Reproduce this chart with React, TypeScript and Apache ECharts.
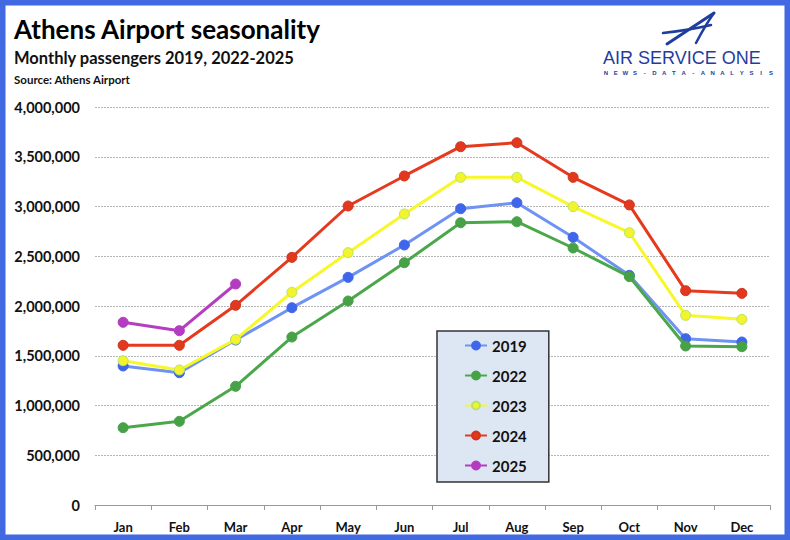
import React, { useEffect, useRef } from "react";
import * as echarts from "echarts";

const months = ["Jan", "Feb", "Mar", "Apr", "May", "Jun", "Jul", "Aug", "Sep", "Oct", "Nov", "Dec"];
const years = ["2019", "2022", "2023", "2024", "2025"];
const pax2019 = [1397000, 1330000, 1658000, 1983000, 2288000, 2613000, 2978000, 3038000, 2690000, 2308000, 1672000, 1638000];
const pax2022 = [777000, 841000, 1193000, 1688000, 2050000, 2435000, 2837000, 2847000, 2583000, 2295000, 1598000, 1591000];
const pax2023 = [1450000, 1357000, 1665000, 2138000, 2536000, 2925000, 3293000, 3293000, 2998000, 2737000, 1906000, 1866000];
const pax2024 = [1605000, 1605000, 2007000, 2489000, 3005000, 3307000, 3601000, 3641000, 3293000, 3016000, 2154000, 2127000];
const pax2025 = [1836000, 1752000, 2221000];
const yTicks = { min: 0, max: 4000000, interval: 500000 };

const FONT = "Lato, 'Noto Sans', sans-serif";
const tagline = ["N", "E", "W", "S", "-", "D", "A", "T", "A", "-", "A", "N", "A", "L", "Y", "S", "I", "S"];

export default function App() {
  const ref = useRef<HTMLDivElement>(null);
  useEffect(() => {
    if (!ref.current) return;
    const chart = echarts.init(ref.current, null, { renderer: "svg" });
    const styles = [
      { line: "#6f93f2", dot: "#3f66ea", border: "#3f66ea" },
      { line: "#4aa84a", dot: "#47a147", border: "#47a147" },
      { line: "#f7f72a", dot: "#f4f42c", border: "#b5e46c" },
      { line: "#e63a1e", dot: "#e2381d", border: "#d0341c" },
      { line: "#b43ec1", dot: "#b33cc0", border: "#b33cc0" },
    ];
    const dataSets = [pax2019, pax2022, pax2023, pax2024, pax2025];
    const logoColor = "#1f3d9e";
    const taglineEls = tagline.map((g, i) => ({
      type: "text",
      x: 606 + i * 9.7,
      y: 73,
      style: { text: g, fill: logoColor, font: "bold 6px 'Liberation Sans', sans-serif", textAlign: "center", textVerticalAlign: "middle" },
    }));
    chart.setOption({
      animation: false,
      backgroundColor: "#ffffff",
      grid: { left: 95, right: 20, top: 107, bottom: 35, containLabel: false },
      legend: {
        data: years,
        orient: "vertical",
        left: 437,
        top: 331,
        padding: [7, 22, 9, 27],
        itemWidth: 22,
        itemHeight: 10,
        itemGap: 15,
        backgroundColor: "#dde7f3",
        borderColor: "#333333",
        borderWidth: 1.5,
        borderRadius: 0,
        textStyle: { fontFamily: FONT, fontWeight: "bold", fontSize: 15, color: "#111" },
      },
      xAxis: {
        type: "category",
        data: months,
        boundaryGap: true,
        axisLine: { lineStyle: { color: "#9a9a9a", width: 1 } },
        axisTick: { show: true, length: 5, lineStyle: { color: "#9a9a9a" } },
        axisLabel: { fontFamily: FONT, fontWeight: "bold", fontSize: 13, color: "#111", margin: 15 },
      },
      yAxis: {
        type: "value",
        min: yTicks.min,
        max: yTicks.max,
        interval: yTicks.interval,
        axisLine: { show: false },
        axisTick: { show: false },
        splitLine: { lineStyle: { color: "#b5b5b5", type: [2, 1], width: 1 } },
        axisLabel: {
          fontFamily: FONT,
          fontWeight: "bold",
          fontSize: 14.5,
          color: "#111",
          margin: 15,
          formatter: (v: number) => v.toLocaleString("en-US"),
        },
      },
      series: years.map((y, i) => ({
        name: y,
        type: "line",
        data: dataSets[i],
        symbol: "circle",
        symbolSize: 10,
        lineStyle: { color: styles[i].line, width: 3 },
        itemStyle: { color: styles[i].dot, borderColor: styles[i].border, borderWidth: 1 },
        emphasis: { disabled: true },
        z: 2 + i,
      })),
      graphic: [
        {
          type: "rect",
          shape: { x: 0, y: 0, width: 790, height: 540 },
          style: { fill: "none", stroke: "#4169e1", lineWidth: 11 },
          z: 100,
          silent: true,
        },
        {
          type: "text",
          left: 14,
          top: 16,
          style: { text: "Athens Airport seasonality", fill: "#000", font: `bold 26px ${FONT}` },
        },
        {
          type: "text",
          left: 14,
          top: 49,
          style: { text: "Monthly passengers 2019, 2022-2025", fill: "#111", font: `bold 16.5px ${FONT}` },
        },
        {
          type: "text",
          left: 14,
          top: 73,
          style: { text: "Source: Athens Airport", fill: "#111", font: `bold 11.5px ${FONT}` },
        },
        {
          type: "text",
          x: 603,
          y: 49,
          style: { text: "AIR SERVICE ONE", fill: logoColor, font: "18px 'Liberation Sans', Arial, sans-serif" },
        },
        ...taglineEls,
        {
          type: "line",
          shape: { x1: 714, y1: 13, x2: 667, y2: 44 },
          style: { stroke: logoColor, lineWidth: 3, lineCap: "round" },
        },
        {
          type: "bezierCurve",
          shape: { x1: 714, y1: 13, cpx1: 706, cpy1: 24, x2: 696, y2: 43 },
          style: { stroke: logoColor, lineWidth: 2.5, lineCap: "round", fill: "none" },
        },
        {
          type: "bezierCurve",
          shape: { x1: 663, y1: 33, cpx1: 690, cpy1: 30, x2: 711, y2: 25 },
          style: { stroke: logoColor, lineWidth: 2.5, lineCap: "round", fill: "none" },
        },
      ],
    });
    return () => chart.dispose();
  }, []);
  return <div ref={ref} style={{ position: "absolute", left: 0, top: 0, width: 790, height: 540 }} />;
}
